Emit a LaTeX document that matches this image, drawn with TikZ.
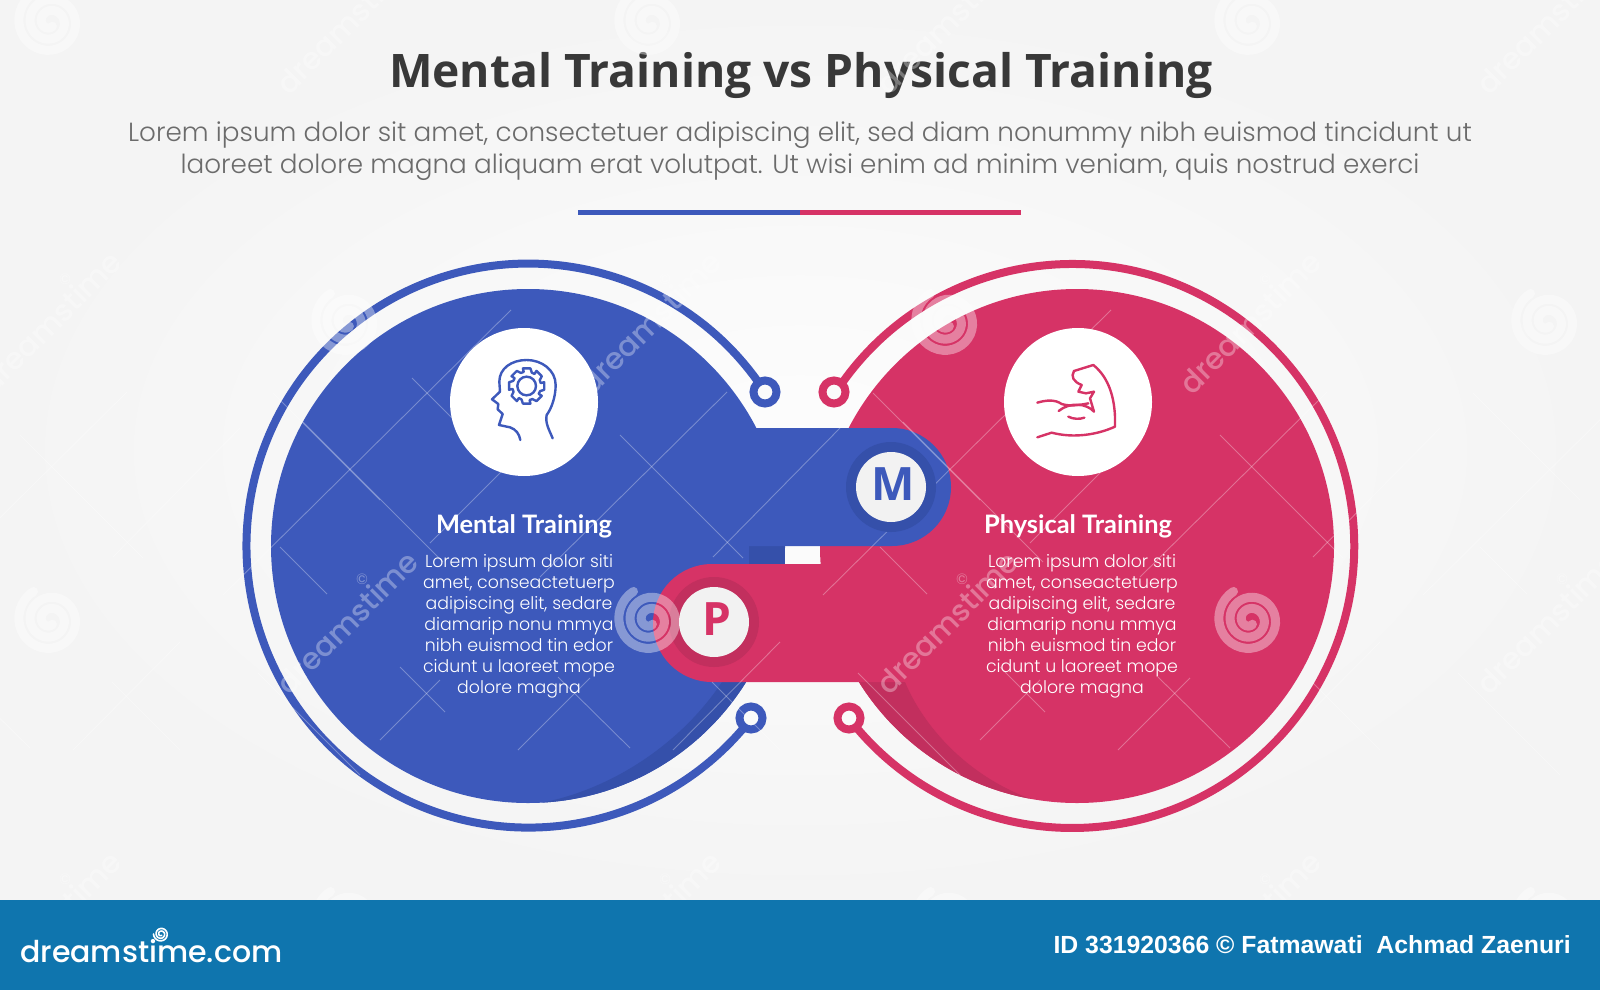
\documentclass[tikz,border=0pt]{standalone}
\usepackage{fontspec}
\setmainfont{Poppins}
\newfontfamily\opens{Open Sans}
\newfontfamily\latof{Lato}
\newfontfamily\popl{Poppins Light}
\newfontfamily\popm{Poppins Medium}
\newfontfamily\libs{Liberation Sans}
\usetikzlibrary{calc}
\definecolor{mblue}{HTML}{3D59BB}
\definecolor{mbluedk}{HTML}{3550AA}
\definecolor{mred}{HTML}{D63366}
\definecolor{mreddk}{HTML}{C22F5E}
\definecolor{band}{HTML}{0F75AE}
\definecolor{gapc}{HTML}{FAFAFA}
\definecolor{bgin}{HTML}{FDFDFD}
\definecolor{bgout}{HTML}{F4F4F4}
\tikzset{
  ringl/.style={line width=8pt,line cap=round},
  enddot/.style={circle,draw=#1,line width=8pt,fill=gapc,minimum size=23pt,inner sep=0pt},
  icondisc/.style={circle,fill=white,minimum size=148pt,inner sep=0pt},
  halo/.style={circle,fill=#1,minimum size=90pt,inner sep=0pt},
  letterdisc/.style={circle,fill=#1,minimum size=70pt,inner sep=0pt},
  cardtitle/.style={text=white,font=\latof\bfseries\fontsize{25.4}{25.4}\selectfont,inner sep=0pt},
  cardbody/.style={text=white,align=center,inner sep=0pt,font=\popl\fontsize{17.35}{21}\selectfont},
  wml/.style={white,opacity=.3,line width=.9pt},
  wms/.style={white,opacity=.38,line width=9pt,line cap=round},
  wmt/.style={text=white,text opacity=.33,rotate=45,inner sep=0pt,font=\popm\fontsize{30}{30}\selectfont},
  iconl/.style={line width=2.4pt,line cap=round,line join=round}
}
\newcommand{\wmspiral}[2]{\draw[wms] plot[domain=60:960,samples=90,variable=\t] ({#1+(3+\t/960*30)*cos(\t)},{#2+(3+\t/960*30)*sin(\t)});}
\newcommand{\wmtext}[3]{\node[wmt] (#3) at (#1,#2) {dreamstime};\node[text=white,text opacity=.33,inner sep=0pt,font=\fontsize{15}{15}\selectfont] (#3c) at ({#1+15},{#2-43}) {©};}
\newcommand{\latticeset}{
  \draw[wml] (823,595)--(1111,310);
  \draw[wml] (780,642)--(673,750);
  \draw[wml] (713,557)--(840,428);
  \draw[wml] (540,577)--(727,392);
  \draw[wml] (430,543)--(530,443);
  \draw[wml] (440,680)--(380,740);
  \draw[wml] (303,422)--(443,562);
  \draw[wml] (620,435)--(743,558);
  \draw[wml] (858,673)--(960,775);
  \draw[wml] (412,378)--(452,418);
  \draw[wml] (712,682)--(780,750);
  \draw[wml] (880,547)--(927,594);
  \draw[wml] (873,393)--(980,500);
  \draw[wml] (558,677)--(630,748);
  \draw[wml] (590,678)--(518,750);
  \draw[wml] (400,667)--(445,712);
}
\begin{document}
\begin{tikzpicture}[x=1pt,y=-1pt]
\useasboundingbox (0,0) rectangle (1600,990);
% background
\shade[inner color=bgin,outer color=bgout] (0,0) rectangle (1600,900);
% header
\node[text=black!78,inner sep=0pt,font=\opens\bfseries\fontsize{46.2}{46.2}\selectfont] (title) at (801,75.5) {Mental Training vs Physical Training};
\node[text=black!58,align=center,inner sep=0pt,font=\popl\fontsize{26.25}{32}\selectfont] (sub) at (800,151.5) {Lorem ipsum dolor sit amet, consectetuer adipiscing elit, sed diam nonummy nibh euismod tincidunt ut\\laoreet dolore magna aliquam erat volutpat. Ut wisi enim ad minim veniam, quis nostrud exerci};
\coordinate (ra) at (578,212.5);\coordinate (rb) at (800,212.5);\coordinate (rc) at (1021,212.5);
\draw[mblue,line width=5pt] (ra)--(rb);
\draw[mred,line width=5pt] (rb)--(rc);
% rings
\coordinate (ltc) at (765,392);\coordinate (lbc) at (751,718);
\coordinate (rtc) at (834,392);\coordinate (rbc) at (849,718);
\coordinate (rta) at (836,392);
\draw[mblue,ringl] (ltc) arc[start angle=-33,end angle=-322.4,radius=282];
\draw[mred,ringl] (rta) arc[start angle=-146.9,end angle=142.4,radius=282];
\node[enddot=mblue] (ltd) at (ltc) {};
\node[enddot=mblue] (lbd) at (lbc) {};
\node[enddot=mred] (rtd) at (rtc) {};
\node[enddot=mred] (rbd) at (rbc) {};
% disks
\fill[mblue] (528,546) circle[radius=257];
\fill[mred] (1077,546) circle[radius=257];
\begin{scope}
\clip (528,546) circle[radius=257];
\fill[mbluedk] (540,803) .. controls (610,790) and (680,745) .. (722,682) -- (800,682) -- (800,810) -- cycle;
\end{scope}
\begin{scope}
\clip (1077,546) circle[radius=257];
\fill[mreddk] (905,682) .. controls (925,730) and (975,785) .. (1050,805) -- (800,810) -- (800,682) -- cycle;
\end{scope}
\fill[mbluedk] (749,546) rectangle (784.5,564);
% bars
\fill[mblue] (700,428) -- (892,428) arc[start angle=-90,end angle=90,radius=59] -- (700,546) -- cycle;
\fill[mred] (712,564) arc[start angle=-90,end angle=-270,radius=59] -- (900,682) -- (900,564) -- cycle;
% lattice
\begin{scope}[xshift=-600pt]\latticeset\end{scope}
\latticeset
\begin{scope}[xshift=600pt]\latticeset\end{scope}
% M P
\node[halo=mbluedk] (mh) at (891,487) {};
\node[letterdisc=black!5] (md) at (891,487) {};
\node[text=mblue,inner sep=0pt,font=\opens\bfseries\fontsize{46}{46}\selectfont] (ml) at (893,484) {M};
\node[halo=mreddk] (ph) at (714,622) {};
\node[letterdisc=black!5] (pd) at (714,622) {};
\node[text=mred,inner sep=0pt,font=\opens\bfseries\fontsize{46}{46}\selectfont] (pl) at (717,619) {P};
% icon discs
\node[icondisc] (hd) at (524,402) {};
\node[icondisc] (ad) at (1078,402) {};
% head icon
\begin{scope}[shift={(430,310)},x=.3333pt,y=-.3333pt]
\draw[mblue,iconl] (368,385) .. controls (358,360) and (345,340) .. (350,315) .. controls (365,295) and (377,260) .. (377,225) .. controls (377,180) and (335,150) .. (290,150) .. controls (245,150) and (208,175) .. (208,215) -- (210,245) -- (186,268) -- (205,282) -- (203,298) -- (218,312) -- (207,345) -- (240,352) .. controls (258,358) and (268,372) .. (271,390);
\begin{scope}[shift={(290,228)}]
\draw[mblue,iconl] (-12:54) \foreach \a in {0,45,...,315}{ -- (\a-12:54) -- (\a+12:54) -- (\a+21:43) -- (\a+33:43)} -- cycle;
\draw[mblue,iconl] (0,0) circle[radius=28];
\end{scope}
\end{scope}
% arm icon
\begin{scope}[shift={(980,310)},x=.3333pt,y=-.3333pt]
\draw[mred,iconl] (172,382) -- (215,368) .. controls (280,385) and (350,375) .. (405,350) -- (405,320) .. controls (403,270) and (390,205) .. (340,165) -- (282,183) .. controls (272,200) and (280,215) .. (305,225) -- (295,245) -- (318,250) -- (342,245) -- (330,265) -- (342,305) .. controls (320,280) and (270,275) .. (236,303);
\draw[mred,iconl] (172,278) .. controls (200,270) and (225,268) .. (245,282) .. controls (270,290) and (300,285) .. (325,280);
\draw[mred,iconl] (265,320) .. controls (280,328) and (300,328) .. (313,323);
\end{scope}
% cards
\node[cardtitle] (lt) at (524,526) {Mental Training};
\node[cardbody] (lb) at (519,626) {Lorem ipsum dolor siti\\amet, conseactetuerp\\adipiscing elit, sedare\\diamarip nonu mmya\\nibh euismod tin edor\\cidunt u laoreet mope\\dolore magna};
\node[cardtitle] (rt) at (1078,526) {Physical Training};
\node[cardbody] (rb) at (1082,626) {Lorem ipsum dolor siti\\amet, conseactetuerp\\adipiscing elit, sedare\\diamarip nonu mmya\\nibh euismod tin edor\\cidunt u laoreet mope\\dolore magna};
% watermarks
\wmspiral{50}{22}\wmspiral{650}{22}\wmspiral{1250}{22}
\wmspiral{347}{322}\wmspiral{947}{322}\wmspiral{1547}{322}
\wmspiral{50}{620}\wmspiral{650}{620}\wmspiral{1250}{620}
\wmspiral{347}{920}\wmspiral{947}{920}\wmspiral{1547}{920}
\wmtext{347}{22}{wa}\wmtext{947}{22}{wb}\wmtext{1547}{22}{wc}
\wmtext{50}{322}{wd}\wmtext{650}{322}{we}\wmtext{1250}{322}{wf}
\wmtext{347}{622}{wg}\wmtext{947}{622}{wh}\wmtext{1547}{622}{wi}
\wmtext{50}{922}{wj}\wmtext{650}{922}{wk}\wmtext{1250}{922}{wl}
% footer
\fill[band] (0,900) rectangle (1600,990);
\node[text=white,anchor=west,inner sep=0pt,font=\popm\fontsize{30}{30}\selectfont] (ds) at (20,951) {dreamstime.com};
\draw[white,line width=1.6pt,line cap=round] plot[domain=60:900,samples=50,variable=\t] ({161+(1+\t/900*6.5)*cos(\t)},{934+(1+\t/900*6.5)*sin(\t)});
\node[text=white,anchor=east,inner sep=0pt,font=\libs\bfseries\fontsize{24.8}{24.8}\selectfont] (id) at (1571,945) {ID 331920366 © Fatmawati\ \ Achmad Zaenuri};
\end{tikzpicture}
\end{document}
